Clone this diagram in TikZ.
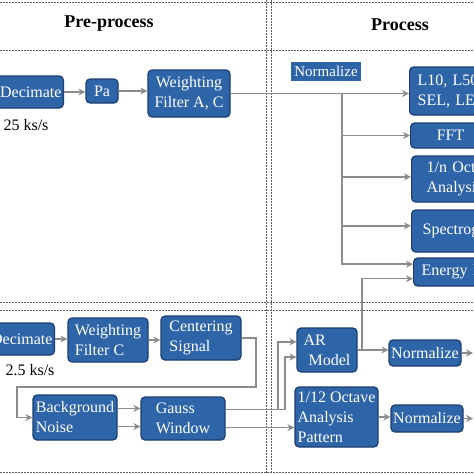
\documentclass[tikz,border=0pt]{standalone}
\usepackage{fontspec}
\setmainfont{Liberation Serif}
\usepackage{tikz}
\usetikzlibrary{arrows.meta}

\definecolor{boxblue}{RGB}{46,100,168}
\definecolor{boxedge}{RGB}{28,62,112}
\definecolor{wiregray}{RGB}{140,140,140}
\definecolor{sepgray}{RGB}{95,95,95}

\tikzset{
  blk/.style={draw=boxedge, line width=1.2pt, fill=boxblue, rounded corners=4pt, text=white,
    font=\fontsize{16}{20}\selectfont, align=left, inner sep=2pt},
  rblk/.style={blk, anchor=west, inner xsep=8pt},
  normtag/.style={fill=boxblue, text=white, font=\fontsize{15}{19}\selectfont, inner sep=1pt,
    minimum width=70pt, minimum height=19pt},
  wire/.style={draw=wiregray, line width=1.6pt, -{Stealth[length=7pt,width=7pt]}},
  sepline/.style={draw=sepgray, line width=0.9pt, dash pattern=on 2pt off 1pt},
  headtxt/.style={font=\fontsize{18}{21}\selectfont\bfseries},
  ratetxt/.style={font=\fontsize{16}{18}\selectfont}
}

\begin{document}
\begin{tikzpicture}[x=1pt,y=-1pt]
		\useasboundingbox (0,0) rectangle (474,474);
		\clip (0,0) rectangle (474,474);
		% dashed frame
		\draw[sepline] (0,2) -- (474,2);
		\draw[sepline] (0,50) -- (474,50);
		\draw[sepline] (0,302) -- (474,302);
		\draw[sepline] (0,310) -- (474,310);
		\draw[sepline] (0,472) -- (474,472);
		\draw[sepline] (266,0) -- (266,474);
		\draw[sepline] (271,0) -- (271,474);
		\node[headtxt] (pre) at (109,24) {Pre-process};
		\node[headtxt] (pro) at (400,25) {Process};
		% upper row
		\node[blk, anchor=east, text width=76pt, align=right, minimum height=32pt] (decA) at (64,92) {Decimate};
		\node[ratetxt] (rateA) at (26,125) {25 ks/s};
		\node[blk, minimum width=32pt, minimum height=24pt, align=center] (pa) at (102,91) {Pa};
		\node[blk, minimum width=82pt, minimum height=47pt, align=center] (wfA) at (189,93.5) {Weighting\\Filter A, C};
		\node[normtag] (normA) at (326,71.5) {Normalize};
		\node[rblk, text width=110pt, minimum height=48pt] (lvl) at (409,91) {L10, L50, L90\\SEL, LEQ};
		\node[rblk, text width=64pt, align=center, minimum height=25pt] (fft) at (410,135.5) {FFT};
		\node[rblk, inner xsep=15pt, text width=90pt, minimum height=46pt] (oct) at (411,179) {1/n Octave\\Analysis};
		\node[rblk, inner xsep=11pt, text width=96pt, minimum height=42pt] (spec) at (411,231) {Spectrogram};
		\node[rblk, text width=110pt, minimum height=28pt] (energy) at (413,272) {Energy Ratio};
		% lower row
		\node[blk, anchor=east, text width=76pt, align=right, minimum height=32pt] (decB) at (55,339) {Decimate};
		\node[ratetxt] (rateB) at (30,370) {2.5 ks/s};
		\node[blk, minimum width=80pt, minimum height=44pt] (wfB) at (108,340) {Weighting\\Filter C};
		\node[blk, minimum width=80pt, minimum height=44pt] (cen) at (201,338) {Centering\\Signal};
		\node[blk, minimum width=84pt, minimum height=45pt] (bgn) at (75,417.5) {Background\\Noise};
		\node[blk, minimum width=84pt, minimum height=43pt] (gw) at (183,418.5) {Gauss\\Window};
		\node[blk, minimum width=60pt, minimum height=44pt] (ar) at (327,350) {AR\\\hspace{5pt}Model};
		\node[blk, minimum width=83pt, minimum height=60pt] (octB) at (336.5,417) {1/12 Octave\\Analysis\\Pattern};
		\node[blk, minimum width=72pt, minimum height=26pt] (nrmA) at (425,353) {Normalize};
		\node[blk, minimum width=72pt, minimum height=27pt] (nrmB) at (427,418.5) {Normalize};
		% bends and taps
		\coordinate (tap) at (342,0);
		\coordinate (lnA) at (278,0);
		\coordinate (lnB) at (285,0);
		\coordinate (arTap) at (362,0);
		\coordinate (outA) at (473,0);
		\coordinate (bendR) at (256,387);
		\coordinate (bendL) at (17,387);
		% connectors, upper
		\draw[wire] (decA.east) -- (decA.east -| pa.west);
		\draw[wire] (pa.east) -- (pa.east -| wfA.west);
		\draw[wire] (wfA.east) -- (wfA.east -| lvl.west);
		\foreach \t in {fft.west, oct.178, spec.175, energy.173}
			\draw[wire] (tap |- wfA.east) |- (\t);
		% connectors, lower
		\draw[wire] (decB.east) -- (decB.east -| wfB.west);
		\draw[wire] (wfB.east) -- (wfB.east -| cen.west);
		\draw[wire] (cen.east) -| (bendR) -- (bendL) |- (bgn.west);
		\draw[wire] (bgn.12) -- (bgn.12 -| gw.west);
		\draw[wire] (bgn.-12) -- (bgn.-12 -| gw.west);
		\draw[wire] (gw.12) -| (lnA |- ar.165) -- (ar.165);
		\draw[wire] (gw.12) -| (lnB |- ar.193) -- (ar.193);
		\draw[wire] (gw.-12) -- (gw.-12 -| octB.west);
		\draw[wire] (ar.east) -- (ar.east -| nrmA.west);
		\draw[wire] (arTap |- ar.east) |- (energy.186);
		\draw[wire] (octB.east) -- (octB.east -| nrmB.west);
		\draw[wire] (nrmA.east) -- (nrmA.east -| outA);
		\draw[wire] (nrmB.east) -- (nrmB.east -| outA);
\end{tikzpicture}
\end{document}
